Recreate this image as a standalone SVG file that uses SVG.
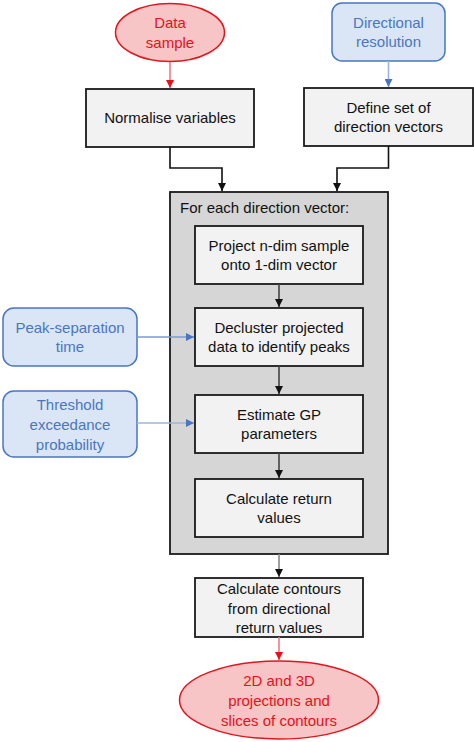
<svg xmlns="http://www.w3.org/2000/svg" width="474" height="742" viewBox="0 0 474 742">
<style>
text{font-family:"Liberation Sans",Arial,sans-serif;font-size:15px;text-anchor:middle}
.blk{fill:#111}
.red{fill:#e8101a}
.blu{fill:#4a76c0}
.box{fill:#f2f2f2;stroke:#1a1a1a;stroke-width:1.8}
.big{fill:#d6d6d6;stroke:#1a1a1a;stroke-width:1.8}
.rin{fill:#f7c5c5;stroke:#e3141c;stroke-width:1.5}
.bin{fill:#dae6f5;stroke:#4a76c0;stroke-width:1.5}
.c{fill:none;stroke-width:1.6}
</style>
<defs>
<marker id="ak" viewBox="0 0 8 8" refX="8" refY="4" markerWidth="8" markerHeight="8" markerUnits="userSpaceOnUse" orient="auto"><path d="M0,0L8,4L0,8z" fill="#111"/></marker>
<marker id="ar" viewBox="0 0 8 8" refX="8" refY="4" markerWidth="8" markerHeight="8" markerUnits="userSpaceOnUse" orient="auto"><path d="M0,0L8,4L0,8z" fill="#e8101a"/></marker>
<marker id="ab" viewBox="0 0 8 8" refX="8" refY="4" markerWidth="8" markerHeight="8" markerUnits="userSpaceOnUse" orient="auto"><path d="M0,0L8,4L0,8z" fill="#4a76c0"/></marker>
</defs>
<g id="loop">
<rect class="big" x="170" y="192" width="218" height="362"/>
<text class="blk" x="180" y="213" style="text-anchor:start">For each direction vector:</text>
</g>
<g id="data-sample"><ellipse class="rin" cx="170" cy="32.5" rx="54.5" ry="29"/><text class="red" x="170" y="28">Data</text><text class="red" x="170" y="48">sample</text></g>
<g id="directional-resolution"><rect class="bin" x="332" y="3" width="113" height="58" rx="10"/><text class="blu" x="388.5" y="28">Directional</text><text class="blu" x="388.5" y="47">resolution</text></g>
<g id="normalise"><rect class="box" x="86" y="89" width="168" height="58"/><text class="blk" x="170" y="123">Normalise variables</text></g>
<g id="define"><rect class="box" x="304" y="88" width="169" height="58"/><text class="blk" x="388.5" y="113">Define set of</text><text class="blk" x="388.5" y="132">direction vectors</text></g>
<g id="project"><rect class="box" x="195" y="226" width="168" height="58"/><text class="blk" x="279" y="251">Project n-dim sample</text><text class="blk" x="279" y="270">onto 1-dim vector</text></g>
<g id="decluster"><rect class="box" x="195" y="308" width="168" height="58"/><text class="blk" x="279" y="333">Decluster projected</text><text class="blk" x="279" y="352">data to identify peaks</text></g>
<g id="estimate"><rect class="box" x="195" y="395" width="168" height="58"/><text class="blk" x="279" y="420">Estimate GP</text><text class="blk" x="279" y="439">parameters</text></g>
<g id="return-values"><rect class="box" x="195" y="479" width="168" height="58"/><text class="blk" x="279" y="504">Calculate return</text><text class="blk" x="279" y="523">values</text></g>
<g id="peak-separation"><rect class="bin" x="3" y="308" width="134" height="58" rx="11"/><text class="blu" x="70" y="333">Peak-separation</text><text class="blu" x="70" y="352">time</text></g>
<g id="threshold"><rect class="bin" x="3" y="391" width="134" height="66" rx="11"/><text class="blu" x="70" y="410">Threshold</text><text class="blu" x="70" y="430">exceedance</text><text class="blu" x="70" y="450">probability</text></g>
<g id="contours"><rect class="box" x="195" y="578" width="168" height="59"/><text class="blk" x="279" y="594">Calculate contours</text><text class="blk" x="279" y="614">from directional</text><text class="blk" x="279" y="633">return values</text></g>
<g id="projections"><ellipse class="rin" cx="279" cy="700" rx="99.5" ry="39"/><text class="red" x="279" y="686">2D and 3D</text><text class="red" x="279" y="706">projections and</text><text class="red" x="279" y="726">slices of contours</text></g>
<g id="connectors">
<path class="c" d="M170,62V88" stroke="#f07a80" marker-end="url(#ar)"/>
<path class="c" d="M388.5,61V87" stroke="#9bb4dc" marker-end="url(#ab)"/>
<path class="c" d="M170,147V168H222V191" stroke="#111" marker-end="url(#ak)"/>
<path class="c" d="M388.5,146V168H337V191" stroke="#111" marker-end="url(#ak)"/>
<path class="c" d="M279,284V307" stroke="#444" marker-end="url(#ak)"/>
<path class="c" d="M279,366V394" stroke="#444" marker-end="url(#ak)"/>
<path class="c" d="M279,453V478" stroke="#444" marker-end="url(#ak)"/>
<path class="c" d="M279,554V577" stroke="#888" marker-end="url(#ak)"/>
<path class="c" d="M279,637V660" stroke="#f07a80" marker-end="url(#ar)"/>
<path class="c" d="M137,337H194" stroke="#7b9bd2" marker-end="url(#ab)"/>
<path class="c" d="M137,423H194" stroke="#9bb4dc" marker-end="url(#ab)"/>
</g>
</svg>
